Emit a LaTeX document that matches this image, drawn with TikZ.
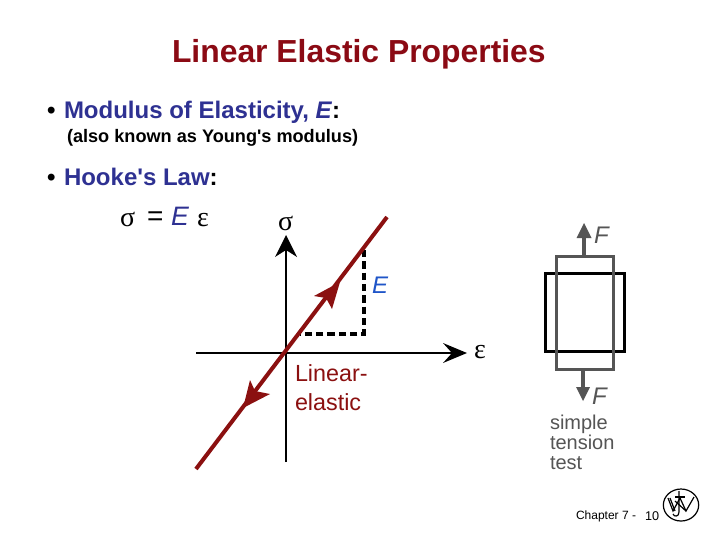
\documentclass[tikz,border=0pt]{standalone}
\usepackage{fontspec}
\setmainfont{Liberation Sans}
\newfontfamily\symfont{Liberation Serif}
\usetikzlibrary{arrows.meta,shapes.geometric}
\definecolor{titlered}{HTML}{8B0A14}
\definecolor{blueT}{HTML}{2E3192}
\definecolor{blueE}{HTML}{1F55C8}
\definecolor{darkred}{HTML}{8B1010}
\definecolor{greyT}{HTML}{555555}
\newcommand{\fs}[1]{\fontsize{#1}{#1}\selectfont}
\tikzset{
 x=0.75pt,y=-0.75pt,
 txt/.style={inner sep=0,outer sep=0,anchor=base west},
 axis/.style={draw=black,line width=1.5pt},
 axhead/.style={fill=black,draw=none},
 stress/.style={draw=darkred,line width=3pt},
 stresshead/.style={fill=darkred,draw=none},
 slope/.style={draw=black,line width=2.5pt,dash pattern=on 5.5pt off 3pt},
 orig/.style={draw=black,line width=2.25pt},
 strained/.style={draw=greyT,line width=2.25pt},
 force/.style={draw=greyT,line width=2.6pt},
 logo/.style={draw=black,line width=0.9pt},
}
\begin{document}
\begin{tikzpicture}
\useasboundingbox (0,0) rectangle (720,540);
\fill[white] (0,0) rectangle (720,540);
\node[txt,text=titlered,font=\bfseries\fs{23.9}] (title) at (172,62) {Linear Elastic Properties};
\node[txt,font=\bfseries\fs{18}] (bu1) at (47,118) {\textbullet};
\node[txt,text=blueT,font=\bfseries\fs{18}] (b1) at (64,118) {Modulus of Elasticity, \textit{E}\textcolor{black}{:}};
\node[txt,font=\bfseries\fs{13.6}] (b1s) at (67,142) {(also known as Young\textquotesingle s modulus)};
\node[txt,font=\bfseries\fs{18}] (bu2) at (47,185) {\textbullet};
\node[txt,text=blueT,font=\bfseries\fs{18}] (b2) at (64,185) {Hooke\textquotesingle s Law\textcolor{black}{:}};
\node[txt,font=\symfont\fs{21}] (s1) at (120,226) {σ};
\node[txt,font=\fs{21}] (eq) at (147,225) {=};
\node[txt,text=blueT,font=\itshape\fs{20}] (e1) at (171,225) {E};
\node[txt,font=\symfont\fs{21}] (e2) at (197,226) {ε};
\node[txt,font=\symfont\fs{21}] (sigaxis) at (278,230) {σ};
\node[txt,font=\symfont\fs{21}] (epsaxis) at (474,358) {ε};
% axes
\coordinate (yb) at (286,462); \coordinate (yt) at (286,245);
\coordinate (xl) at (196,353); \coordinate (xr) at (455,353);
\draw[axis] (yb) -- (yt);
\draw[axis] (xl) -- (xr);
\fill[axhead] (286,235) -- (275,257) -- (286,250) -- (297,257) -- cycle;
\fill[axhead] (467,353) -- (443,343) -- (452,353) -- (443,363) -- cycle;
% slope triangle
\coordinate (st) at (364,250); \coordinate (sc) at (364,334); \coordinate (sl) at (300,334);
\draw[slope] (st) -- (sc) -- (sl);
% stress-strain line
\coordinate (la) at (196,469); \coordinate (lb) at (387,217);
\draw[stress] (la) -- (lb);
\fill[stresshead] (340,282) -- (314,296) -- (326,298) -- (332,309) -- cycle;
\fill[stresshead] (243,408) -- (250,380) -- (255,391) -- (270,394) -- cycle;
\node[txt,text=blueE,font=\itshape\fs{18}] (Elab) at (372,293) {E};
\node[txt,text=darkred,font=\fs{17.5}] (le1) at (295,381) {Linear-};
\node[txt,text=darkred,font=\fs{17.5}] (le2) at (295,410) {elastic};
% specimen
\node[orig,outer sep=0,minimum width=59.25pt,minimum height=58.5pt,inner sep=0,anchor=north west] (black) at (545.5,273.5) {};
\node[strained,outer sep=0,minimum width=42.5pt,minimum height=84.5pt,inner sep=0,anchor=north west] (grey) at (556.5,256.5) {};
\coordinate (ut) at (584,232); \coordinate (dt) at (583,392);
\draw[force] (grey.north -| ut) -- (ut);
\draw[force] (grey.south -| dt) -- (dt);
\fill[greyT] (584,223) -- (576.5,238) -- (591.5,238) -- cycle;
\fill[greyT] (583,401) -- (576,387) -- (590,387) -- cycle;
\node[txt,text=greyT,font=\itshape\fs{18}] (F1) at (594,243) {F};
\node[txt,text=greyT,font=\itshape\fs{18}] (F2) at (592,404) {F};
\node[txt,text=greyT,font=\fs{15}] (st1) at (550,429) {simple};
\node[txt,text=greyT,font=\fs{15}] (st2) at (550,449) {tension};
\node[txt,text=greyT,font=\fs{15}] (st3) at (550,469) {test};
% footer
\node[txt,font=\fs{9}] (ch) at (576,519) {Chapter 7 -};
\node[txt,font=\fs{9.5}] (pg) at (645,520) {10};
% logo
\node[logo,ellipse,minimum width=26.5pt,minimum height=24pt,inner sep=0] (lg) at (681,505) {};
\draw[logo] (668,498) -- (673,511) -- (680,498) -- (686,511) -- (694,497);
\draw[logo] (670,498) -- (675,511);
\draw[logo] (679,491) -- (679,512) .. controls (679,517) and (674,517) .. (673,514);
\draw[logo] (675,497) -- (685,497);
\draw[logo] (675,501) -- (686,511);
\end{tikzpicture}
\end{document}
